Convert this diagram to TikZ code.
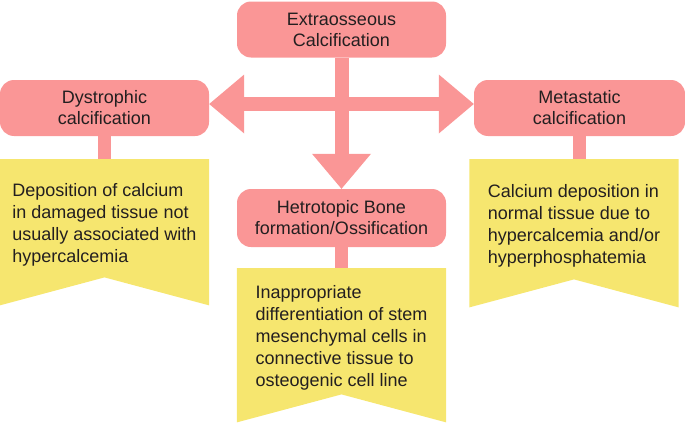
\documentclass[tikz,border=0pt]{standalone}
\usepackage{fontspec}
\setmainfont{Liberation Sans}
\usetikzlibrary{arrows.meta,backgrounds}

\definecolor{boxpink}{HTML}{FA9696}
\definecolor{noteyellow}{HTML}{F6E66F}
\definecolor{inkgray}{HTML}{231F20}

\tikzset{
  pinkbox/.style={fill=boxpink, rounded corners=14pt, minimum width=209pt,
    minimum height=56pt, align=center, text=inkgray,
    font=\fontsize{18}{21}\selectfont},
  notebox/.style={minimum width=209pt, align=left, text=inkgray,
    font=\fontsize{18}{22}\selectfont},
  stem/.style={draw=boxpink, line width=13pt},
  bigarrow/.style={draw=boxpink, line width=14pt,
    >={Triangle[length=35pt,width=59pt,line width=0pt]}},
}

% yellow banner behind a note node
\newcommand\notefill[1]{%
  \fill[noteyellow] (#1.north west) -- (#1.north east) -- ([yshift=-14pt]#1.south east)
    -- ([yshift=14pt]#1.south) -- ([yshift=-14pt]#1.south west) -- cycle;}

\begin{document}
\begin{tikzpicture}[x=1pt, y=-1pt]
  \useasboundingbox (0,0) rectangle (685,423);

  \node[pinkbox] (ext) at (341.5, 29.5) {Extraosseous\\Calcification};
  \node[pinkbox] (dys) at (104.5, 108) {Dystrophic\\calcification};
  \node[pinkbox, minimum width=211pt] (met) at (579.5, 108) {Metastatic\\calcification};
  \node[pinkbox, minimum height=58pt] (het) at (341.5, 218) {Hetrotopic Bone\\formation/Ossification};

  \node[notebox, minimum height=132pt, anchor=north] (dysnote) at (104.5, 159)
    {Deposition of calcium\\in damaged tissue not\\usually associated with\\hypercalcemia};
  \node[notebox, minimum height=140pt, anchor=north] (hetnote) at (341.5, 268)
    {Inappropriate\\differentiation of stem\\mesenchymal cells in\\connective tissue to\\osteogenic cell line};
  \node[notebox, minimum height=134pt, anchor=north] (metnote) at (574, 159)
    {Calcium deposition in\\normal tissue due to\\hypercalcemia and/or\\hyperphosphatemia};

  \begin{scope}[on background layer]
    \notefill{dysnote}
    \notefill{hetnote}
    \notefill{metnote}
  \end{scope}

  % connectors
  \draw[bigarrow, <->] ([yshift=4pt]dys.east) -- ([yshift=4pt]met.west);
  \draw[bigarrow, ->] (ext.south) -- (het.north);
  \draw[stem] (dys.south) -- (dys.south |- dysnote.north);
  \draw[stem] (het.south) -- (hetnote.north);
  \draw[stem] (met.south) -- (met.south |- metnote.north);

\end{tikzpicture}
\end{document}
